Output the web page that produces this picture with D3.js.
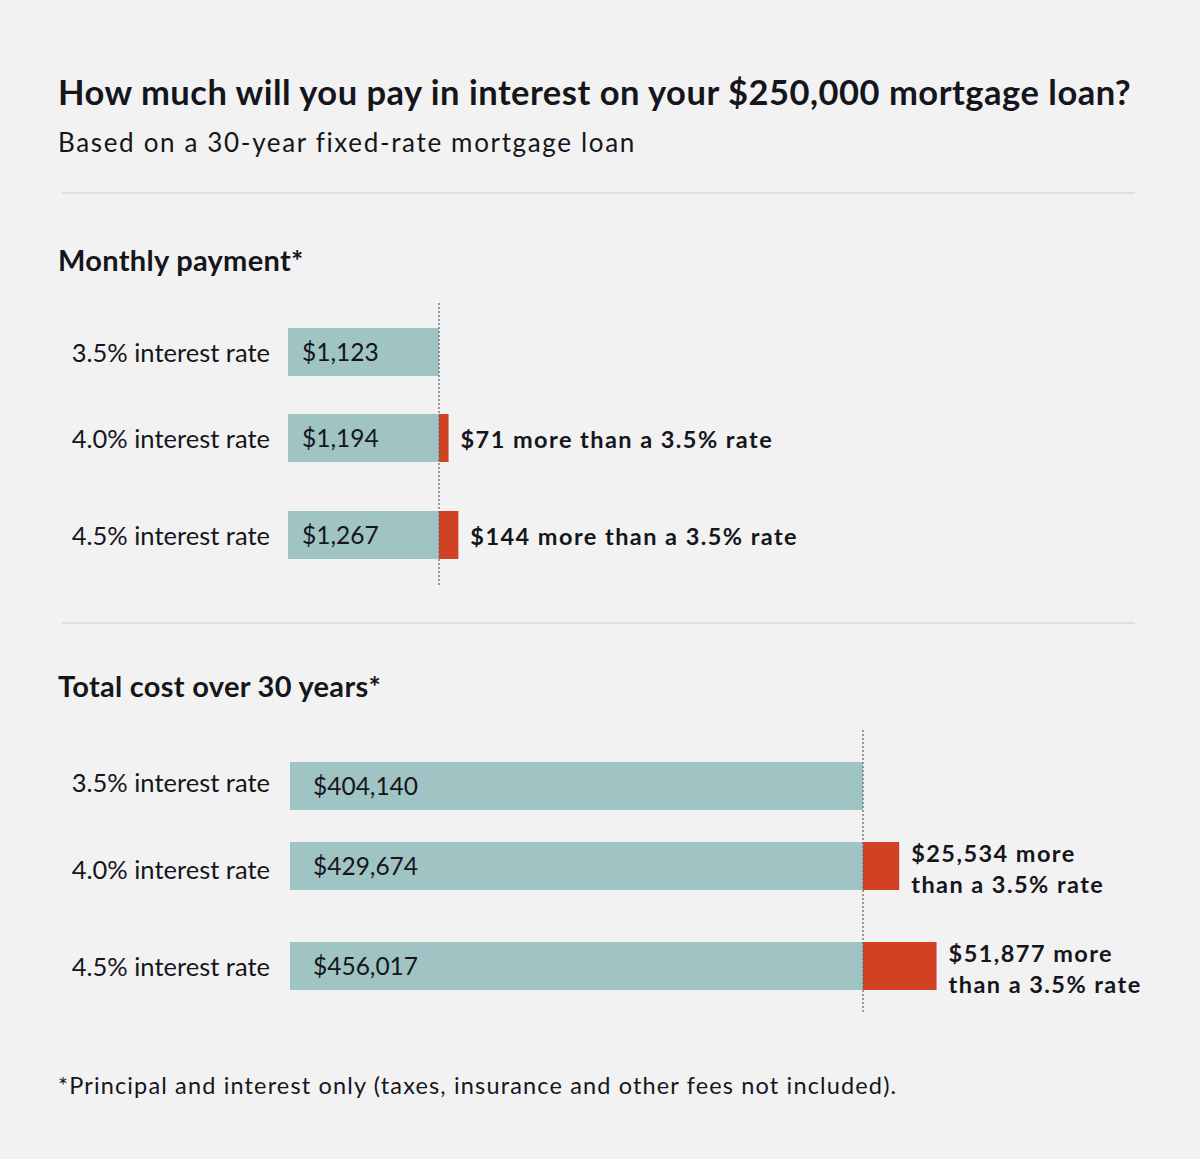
<!DOCTYPE html>
<html><head><meta charset="utf-8">
<script src="https://cdn.jsdelivr.net/npm/d3@7"></script>
<style>
html,body{margin:0;padding:0;background:#f2f2f2;}
svg{display:block;font-family:Lato,"Noto Sans",sans-serif;}
</style></head>
<body>
<svg id="c" width="1200" height="1159"></svg>
<script>
const categories = ["3.5% interest rate", "4.0% interest rate", "4.5% interest rate"];
const monthlyPayment = [1123, 1194, 1267];
const totalCost = [404140, 429674, 456017];
const titleText = "How much will you pay in interest on your $250,000 mortgage loan?";
const subtitleText = "Based on a 30-year fixed-rate mortgage loan";
const section1Title = "Monthly payment*";
const section2Title = "Total cost over 30 years*";
const footnoteText = "*Principal and interest only (taxes, insurance and other fees not included).";

const TEAL = "#9fc4c3", RED = "#d14124", INK = "#15161c";
const svg = d3.select("#c");
svg.append("rect").attr("width",1200).attr("height",1159).attr("fill","#f2f2f2");

svg.append("text").attr("x",58).attr("y",104.5).attr("font-size",34.5).attr("font-weight",700)
  .attr("letter-spacing",0.5).attr("fill",INK).text(titleText);
svg.append("text").attr("x",58).attr("y",152).attr("font-size",26).attr("font-weight",400)
  .attr("letter-spacing",1.65).attr("fill",INK).text(subtitleText);
[193, 623].forEach(y => svg.append("line").attr("x1",62).attr("x2",1135).attr("y1",y).attr("y2",y)
  .attr("stroke","#d9d9d9").attr("stroke-width",1.5));

svg.append("text").attr("x",58).attr("y",271).attr("font-size",29).attr("font-weight",700)
  .attr("letter-spacing",0.3).attr("fill",INK).text(section1Title);
svg.append("text").attr("x",58).attr("y",697).attr("font-size",29).attr("font-weight",700)
  .attr("letter-spacing",0.3).attr("fill",INK).text(section2Title);

const fmt = d3.format("$,");

function panel(values, cfg) {
  const base = values[0];
  const x = d3.scaleLinear().domain([0, base]).range([cfg.x0, cfg.xBase]);
  const y = d3.scaleOrdinal().domain(categories).range(cfg.rows);
  const bh = 48;
  const g = svg.append("g");
  g.selectAll("rect.base").data(values).join("rect").attr("class","base")
    .attr("x", x(0)).attr("y", (d,i) => y(categories[i]))
    .attr("width", d => x(Math.min(d, base)) - x(0)).attr("height", bh).attr("fill", TEAL);
  g.selectAll("rect.extra").data(values.slice(1)).join("rect").attr("class","extra")
    .attr("x", x(base)).attr("y", (d,i) => y(categories[i+1]))
    .attr("width", d => x(d) - x(base)).attr("height", bh).attr("fill", RED);
  g.append("line").attr("x1", x(base)).attr("x2", x(base))
    .attr("y1", cfg.lineY[0]).attr("y2", cfg.lineY[1])
    .attr("stroke","#6b6b6b").attr("stroke-width",1.3).attr("stroke-dasharray","2,2");
  g.selectAll("text.cat").data(categories).join("text").attr("class","cat")
    .attr("x", 270).attr("y", (d,i) => y(d) + bh/2 + cfg.labelDy[i])
    .attr("text-anchor","end").attr("font-size", 25.5).attr("fill", INK).text(d => d);
  g.selectAll("text.val").data(values).join("text").attr("class","val")
    .attr("x", x(0) + cfg.valPad).attr("y", (d,i) => y(categories[i]) + bh/2 + 9)
    .attr("font-size", 24.5).attr("fill", INK).text(d => fmt(d));
  values.slice(1).forEach((d,i) => {
    const diff = d - base;
    const ax = x(d) + cfg.annPad;
    const t = g.append("text").attr("x", ax)
      .attr("font-size", 23.5).attr("font-weight",700).attr("letter-spacing",1.45).attr("fill", INK);
    const cy = y(categories[i+1]) + bh/2;
    if (cfg.twoLine) {
      t.append("tspan").attr("x", ax).attr("y", cy - 4.5).text(fmt(diff) + " more");
      t.append("tspan").attr("x", ax).attr("y", cy + 26.5).text("than a 3.5% rate");
    } else {
      t.attr("y", cy + 9.5).text(fmt(diff) + " more than a 3.5% rate");
    }
  });
}

panel(monthlyPayment, {x0:288, xBase:439, rows:[328,414,511], lineY:[303,587],
  labelDy:[9.5,9.5,9.5], valPad:14, annPad:12, twoLine:false});
panel(totalCost, {x0:290, xBase:863, rows:[762,842,942], lineY:[730,1013],
  labelDy:[6,13,10], valPad:23, annPad:12, twoLine:true});

svg.append("text").attr("x",58).attr("y",1094).attr("font-size",23.5).attr("letter-spacing",1.15)
  .attr("fill",INK).text(footnoteText);
</script>
</body></html>
